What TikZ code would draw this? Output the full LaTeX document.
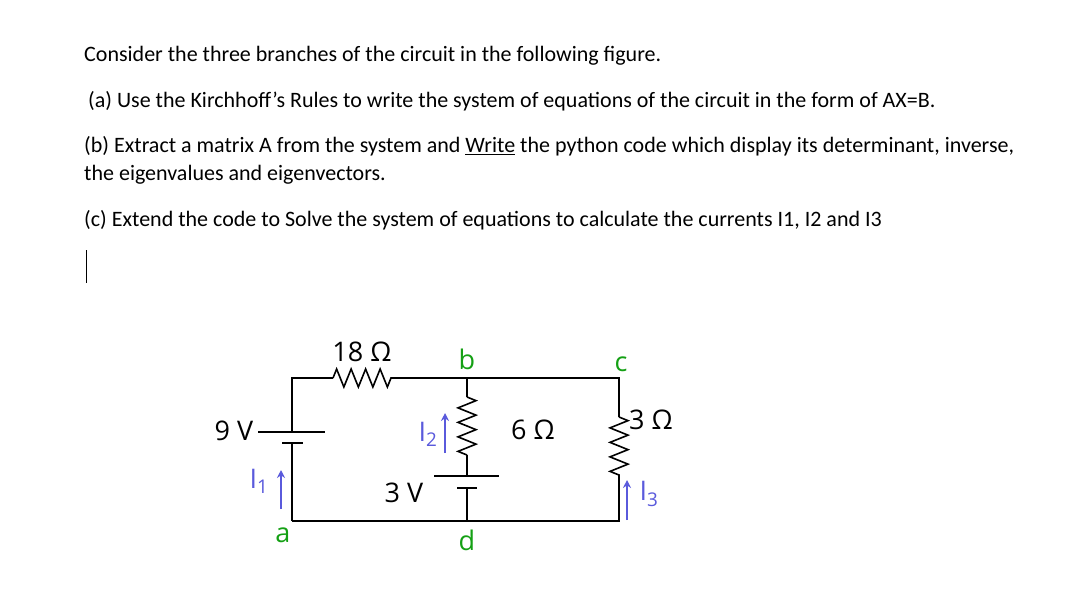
\documentclass[tikz,border=0pt]{standalone}
\usepackage{fontspec}
\setmainfont{Carlito}
\newfontfamily\cfont{Open Sans}
\usetikzlibrary{decorations.pathmorphing,arrows.meta}
\begin{document}
\begin{tikzpicture}[x=1pt,y=-1pt,
  txt/.style={anchor=west,inner sep=0pt,font=\fontsize{22}{24}\selectfont},
  wire/.style={line width=1.6pt},
  res/.style={wire,decorate,decoration={zigzag,amplitude=9pt,segment length=14.5pt}},
  lab/.style={inner sep=0pt,font=\cfont\fontsize{27}{30}\selectfont},
  grn/.style={lab,text={rgb,255:red,20;green,160;blue,20}},
  cur/.style={lab,text={rgb,255:red,90;green,90;blue,220}},
  carr/.style={line width=1.6pt,draw={rgb,255:red,90;green,90;blue,220},-{Stealth[length=8pt,width=8pt]}}]
\useasboundingbox (0,0) rectangle (1081,598);
\node[txt] (t1) at (84,56) {Consider the three branches of the circuit in the following figure.};
\node[txt] (t2) at (88,101) {(a) Use the Kirchhoff’s Rules to write the system of equations of the circuit in the form of AX=B.};
\node[txt] (t3) at (84,146) {(b) Extract a matrix A from the system and \underline{Write} the python code which display its determinant, inverse,};
\node[txt] (t4) at (84,175) {the eigenvalues and eigenvectors.};
\node[txt] (t5) at (84,220) {(c) Extend the code to Solve the system of equations to calculate the currents I1, I2 and I3};
\draw[line width=0.8pt] (86,250) -- (86,283);
\coordinate (tl) at (292,378); \coordinate (b) at (467,378); \coordinate (c) at (619,378);
\coordinate (a) at (292,521); \coordinate (d) at (467,521); \coordinate (br) at (619,521);
\coordinate (r1a) at (333,378); \coordinate (r1b) at (392,378);
\coordinate (r2a) at (467,397); \coordinate (r2b) at (467,455);
\coordinate (r3a) at (619,417); \coordinate (r3b) at (619,477);
\draw[wire] (a) -- (292,443); \draw[wire] (292,432) -- (tl) -- (r1a);
\draw[res] (r1a) -- (r1b); \draw[wire] (r1b) -- (b) -- (c) -- (r3a);
\draw[res] (r3a) -- (r3b); \draw[wire] (r3b) -- (br) -- (a);
\draw[wire] (b) -- (r2a); \draw[res] (r2a) -- (r2b); \draw[wire] (r2b) -- (467,476);
\draw[wire] (467,488) -- (d);
\draw[wire] (258,432) -- (325,432); \draw[wire] (282,443) -- (303,443);
\draw[wire] (434,476) -- (499,476); \draw[wire] (457,488) -- (477,488);
\node[lab] (l18) at (362,352) {18 Ω};
\node[grn] (lb) at (467,359) {b};
\node[grn] (lc) at (621,364) {c};
\node[lab] (l9) at (234,431) {9 V};
\node[lab] (l6) at (533,430) {6 Ω};
\node[lab] (l3) at (651,420) {3 Ω};
\node[lab] (l3v) at (404,493) {3 V};
\node[grn] (la) at (283,535) {a};
\node[grn] (ld) at (467,540) {d};
\node[cur] (i1) at (259,481) {I\textsubscript{1}};
\node[cur] (i2) at (428,434) {I\textsubscript{2}};
\node[cur] (i3) at (649,494) {I\textsubscript{3}};
\draw[carr] (281,509) -- (281,470);
\draw[carr] (445,453) -- (445,413);
\draw[carr] (627,520) -- (627,480);
\end{tikzpicture}
\end{document}
